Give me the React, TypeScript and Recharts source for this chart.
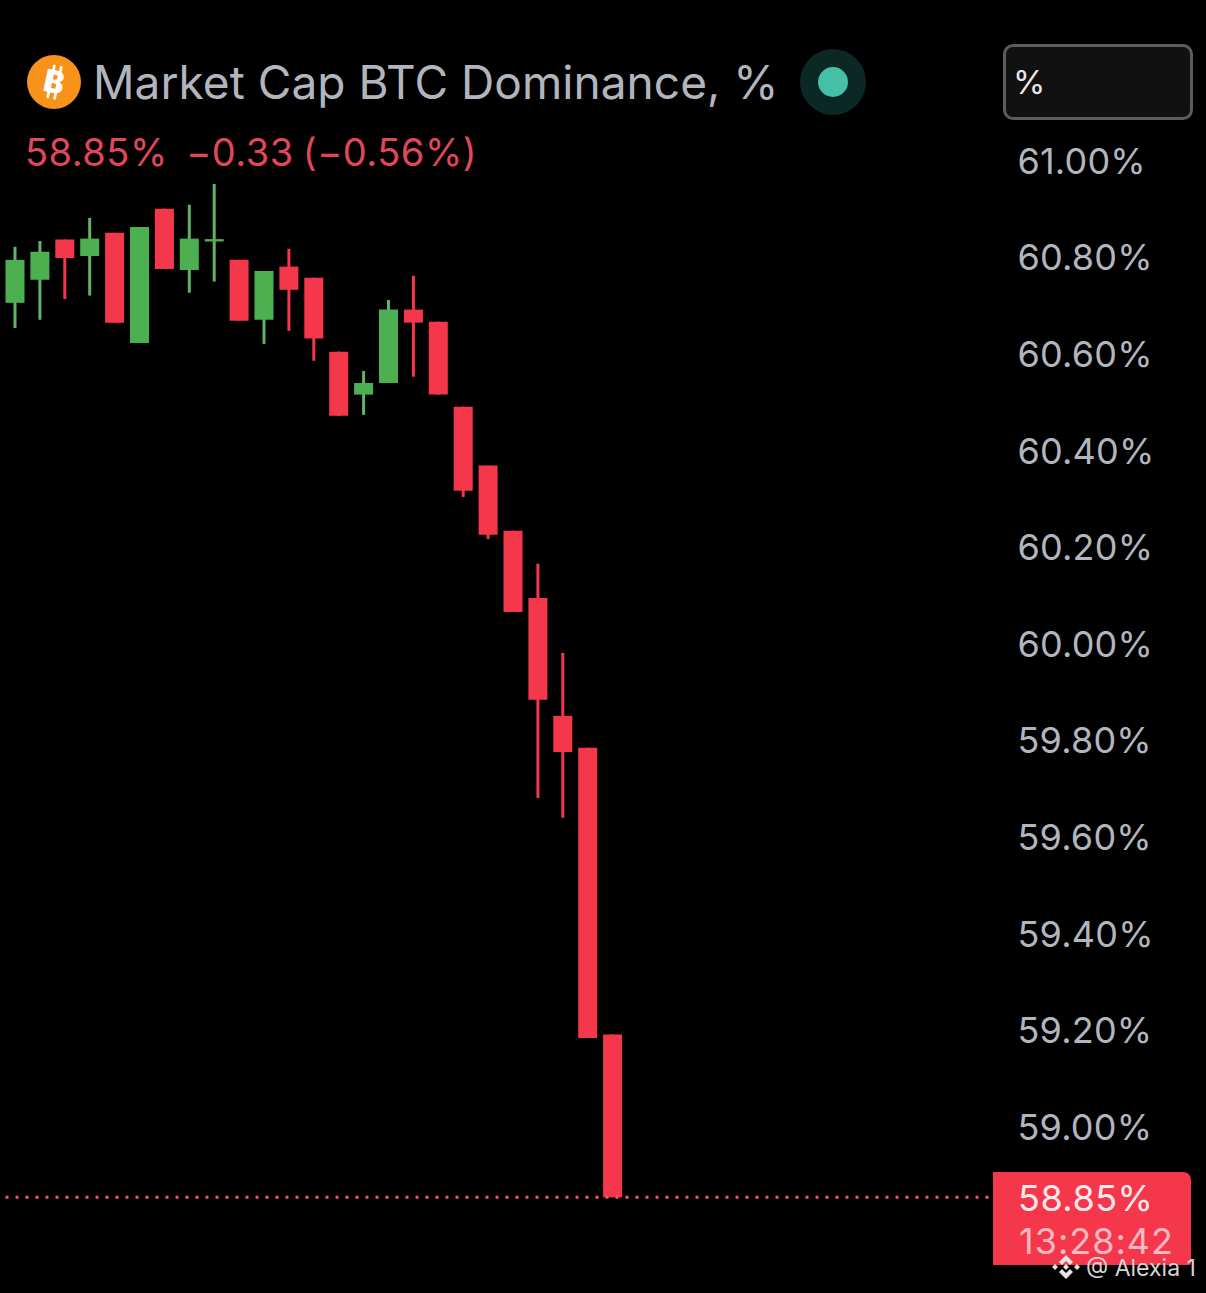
import { Bar, Cell, ComposedChart, ReferenceLine, XAxis, YAxis } from 'recharts';

const opens = [60.708, 60.756, 60.839, 60.805, 60.853, 60.625, 60.903, 60.776, 60.835, 60.797, 60.673, 60.783, 60.76, 60.607, 60.518, 60.542, 60.694, 60.669, 60.493, 60.371, 60.236, 60.097, 59.853, 59.787, 59.193];
const closes = [60.797, 60.814, 60.801, 60.841, 60.667, 60.865, 60.778, 60.841, 60.84, 60.671, 60.774, 60.735, 60.634, 60.474, 60.542, 60.694, 60.667, 60.518, 60.319, 60.228, 60.068, 59.886, 59.778, 59.186, 58.856];
const highs = [60.824, 60.836, 60.839, 60.884, 60.853, 60.865, 60.903, 60.911, 60.954, 60.797, 60.774, 60.82, 60.76, 60.607, 60.567, 60.714, 60.764, 60.669, 60.493, 60.371, 60.236, 60.168, 59.983, 59.787, 59.193];
const lows = [60.656, 60.673, 60.716, 60.723, 60.667, 60.625, 60.778, 60.729, 60.752, 60.671, 60.623, 60.65, 60.588, 60.474, 60.476, 60.542, 60.555, 60.518, 60.306, 60.219, 60.068, 59.683, 59.642, 59.186, 58.856];
const priceTicks = [61, 60.8, 60.6, 60.4, 60.2, 60, 59.8, 59.6, 59.4, 59.2, 59];
const lastPrice = 58.856;
const emptySlots = 15;

const UP = '#4caf50';
const DOWN = '#f5374b';
const FONT = 'Inter, "Noto Sans", sans-serif';

const chartData = [
  ...opens.map((o, i) => ({
    slot: i,
    body: [o, closes[i]],
    wick: [lows[i], highs[i]],
    up: closes[i] >= o,
  })),
  ...Array.from({ length: emptySlots }, (_, i) => ({ slot: opens.length + i, body: null, wick: null, up: false })),
];

function PriceTick({ x, y, payload }: any) {
  return (
    <text x={x + 13} y={y} dy={12} textAnchor="start" fill="#b2b5be" fontSize={36} fontFamily={FONT} letterSpacing={0.2}>
      {payload.value.toFixed(2)}%
    </text>
  );
}

export default function App() {
  return (
    <div style={{ position: 'absolute', left: 0, top: 0, width: 1206, height: 1293, background: '#000', overflow: 'hidden', fontFamily: FONT }}>
      <ComposedChart width={1206} height={1293} data={chartData} margin={{ top: 0, right: 0, bottom: 0, left: 2.5 }}>
        <XAxis xAxisId="wick" dataKey="slot" hide />
        <XAxis xAxisId="body" dataKey="slot" hide />
        <YAxis
          orientation="right"
          width={207.5}
          domain={[58.658, 61.335]}
          ticks={priceTicks}
          interval={0}
          axisLine={false}
          tickLine={false}
          tickMargin={0}
          tick={<PriceTick />}
        />
        <ReferenceLine xAxisId="body" y={lastPrice} stroke="#f4566a" strokeWidth={3} strokeDasharray="3 7" />
        <Bar xAxisId="wick" dataKey="wick" barSize={3} isAnimationActive={false}>
          {chartData.map(d => <Cell key={d.slot} fill={d.up ? '#62b268' : DOWN} />)}
        </Bar>
        <Bar xAxisId="body" dataKey="body" barSize={19} isAnimationActive={false}>
          {chartData.map(d => <Cell key={d.slot} fill={d.up ? UP : DOWN} />)}
        </Bar>
      </ComposedChart>

      {/* header */}
      <svg width={56} height={56} style={{ position: 'absolute', left: 26, top: 54 }}>
        <circle cx={28} cy={28} r={27} fill="#f7931a" />
        <g transform="rotate(12 28 28)" stroke="#fff" strokeWidth={2.6}>
          <line x1={25} y1={11} x2={25} y2={45} />
          <line x1={32} y1={11} x2={32} y2={45} />
        </g>
        <text x={28} y={39} textAnchor="middle" fontSize={31} fontWeight={800} fill="#fff" fontFamily={FONT} transform="rotate(12 28 28)">B</text>
      </svg>
      <div style={{ position: 'absolute', left: 93, top: 54, fontSize: 46, lineHeight: '56px', color: '#b2b5be', whiteSpace: 'nowrap', letterSpacing: 0.05 }}>
        Market Cap BTC Dominance, %
      </div>
      <div style={{ position: 'absolute', left: 25, top: 130, fontSize: 38, lineHeight: '44px', color: '#e0485a', whiteSpace: 'pre', letterSpacing: 0.5, wordSpacing: -2 }}>
        58.85%  −0.33 (−0.56%)
      </div>
      <svg width={66} height={66} style={{ position: 'absolute', left: 800, top: 49 }}>
        <circle cx={33} cy={33} r={33} fill="#0b2825" />
        <circle cx={33} cy={33} r={15} fill="#45bfa5" />
      </svg>
      <div style={{ position: 'absolute', left: 1003, top: 44, width: 190, height: 76, boxSizing: 'border-box', border: '3px solid #5c5c5c', borderRadius: 10, background: '#111', color: '#e8e8e8', fontSize: 33, lineHeight: '70px', paddingLeft: 10 }}>
        <span style={{ marginLeft: -3 }}>%</span>
      </div>

      {/* last price tag */}
      <div style={{ position: 'absolute', left: 993, top: 1172, width: 198, height: 93, background: DOWN, borderTopRightRadius: 8, borderBottomRightRadius: 2 }}>
        <div style={{ position: 'absolute', left: 25, top: 5, fontSize: 36, lineHeight: '42px', color: '#fbe9eb', letterSpacing: 0.5 }}>58.85%</div>
        <div style={{ position: 'absolute', left: 26, top: 48, fontSize: 36, lineHeight: '42px', color: '#f8b9c0', letterSpacing: 1 }}>13:28:42</div>
      </div>

      {/* watermark */}
      <svg width={30} height={30} style={{ position: 'absolute', left: 1052, top: 1253 }} fill="#e4e4e4">
        <path d="M14 2 L21 9 L18 12 L14 8 L10 12 L7 9 Z" />
        <path d="M14 26 L21 19 L18 16 L14 20 L10 16 L7 19 Z" />
        <path d="M3 11 L6 14 L3 17 L0 14 Z" />
        <path d="M25 11 L28 14 L25 17 L22 14 Z" />
        <path d="M14 11 L17 14 L14 17 L11 14 Z" />
      </svg>
      <div style={{ position: 'absolute', left: 1086, top: 1255, fontSize: 23, lineHeight: '26px', color: '#d4d4d4', whiteSpace: 'nowrap' }}>
        @ Alexia 1
      </div>
    </div>
  );
}
